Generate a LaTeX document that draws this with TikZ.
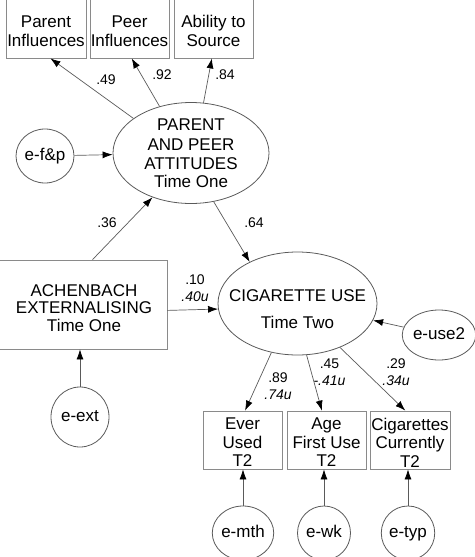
\documentclass[tikz,border=0pt]{standalone}
\usepackage{fontspec}
\setmainfont{Liberation Sans}
\usetikzlibrary{shapes.geometric,arrows.meta}
\definecolor{boxgray}{HTML}{8A8A8A}
\definecolor{linegray}{HTML}{5A5A5A}
\begin{document}
\begin{tikzpicture}[x=1pt,y=-1pt,
  box/.style={draw=boxgray,line width=0.8pt,rectangle,inner sep=0pt},
  oval/.style={draw=linegray,line width=0.8pt,ellipse,inner sep=0pt},
  txt/.style={inner sep=0pt,align=center,font=\fontsize{17}{18.5}\selectfont},
  err/.style={draw=linegray,line width=0.8pt,ellipse,inner sep=0pt,
    text height=12pt,text depth=3pt,font=\fontsize{17}{19}\selectfont},
  lab/.style={inner sep=0pt,align=center,font=\fontsize{14}{17}\selectfont},
  arr/.style={draw=linegray,line width=0.7pt,-{Latex[length=10pt,width=7pt,black]}}]
\useasboundingbox (0,0) rectangle (474,557);
% top indicators
\node[box,minimum width=80,minimum height=62] (pinf) at (46,27) {};
\node[box,minimum width=79,minimum height=62] (peer) at (129.5,27) {};
\node[box,minimum width=79,minimum height=62] (abil) at (213.5,27) {};
\node[txt] (pinft) at (46,31) {Parent\\Influences};
\node[txt] (peert) at (129.5,31) {Peer\\Influences};
\node[txt] (abilt) at (213.5,31) {Ability to\\Source};
% latent parent/peer
\node[oval,minimum width=156,minimum height=101] (ppa) at (191,153) {};
\node[txt,font=\fontsize{17}{19.5}\selectfont] (ppat) at (191,153) {PARENT\\AND PEER\\ATTITUDES\\[-2pt]Time One};
\node[err,minimum width=58,minimum height=54] (efp) at (45,156) {e-f\&p};
% achenbach
\node[box,minimum width=168,minimum height=89] (ach) at (83,304.5) {};
\node[txt,font=\fontsize{17}{17.5}\selectfont] (acht) at (84,308) {ACHENBACH\\EXTERNALISING\\Time One};
\node[err,minimum width=58,minimum height=60] (eext) at (80,417) {e-ext};
% cigarette use
\node[oval,minimum width=159,minimum height=103] (cig) at (297.5,303.5) {};
\node[txt] (cigt) at (297.5,309) {CIGARETTE USE\\[8pt]Time Two};
\node[err,minimum width=58,minimum height=50] (euse) at (439,335) {e-use2};
% bottom indicators
\node[box,minimum width=79,minimum height=58] (ever) at (242.5,440) {};
\node[box,minimum width=79,minimum height=58] (age) at (326.5,440) {};
\node[box,minimum width=80,minimum height=58] (cigc) at (410,440) {};
\node[txt] (evert) at (242.5,442.5) {Ever\\Used\\T2};
\node[txt] (aget) at (326.5,442.5) {Age\\First Use\\T2};
\node[txt] (cigct) at (410,442.5) {Cigarettes\\Currently\\T2};
\node[err,minimum width=53,minimum height=54] (emth) at (243,533) {e-mth};
\node[err,minimum width=53,minimum height=54] (ewk) at (324,533) {e-wk};
\node[err,minimum width=53,minimum height=54] (etyp) at (408,533) {e-typ};
% arrows
\draw[arr] (ppa.149) -- (pinf.-82);
\draw[arr] (ppa.124) -- (peer.-86);
\draw[arr] (ppa.76) -- (abil.-93);
\draw[arr] (efp) -- (ppa);
\draw[arr] (ach.78) -- (ppa.229);
\draw[arr] (ppa.-65) -- (cig.139);
\draw[arr] (ach.-4) -- (cig.184);
\draw[arr] (euse) -- (cig);
\draw[arr] (eext.north) -- (eext.north |- ach.south);
\draw[arr] (cig.242) -- (ever.85);
\draw[arr] (cig.-80) -- (age.99);
\draw[arr] (cig.-46) -- (cigc.99);
\draw[arr] (emth.north) -- (emth.north |- ever.south);
\draw[arr] (ewk.north) -- (ewk.north |- age.south);
\draw[arr] (etyp.north) -- (etyp.north |- cigc.south);
% labels
\node[lab] (l49) at (106,80) {.49};
\node[lab] (l92) at (162,75) {.92};
\node[lab] (l84) at (225,75) {.84};
\node[lab] (l36) at (107,223) {.36};
\node[lab] (l64) at (254,223) {.64};
\node[lab] (l10) at (195,288) {.10\\\textit{.40u}};
\node[lab] (l89) at (278,386.5) {.89\\\textit{.74u}};
\node[lab] (l45) at (329.5,372.5) {.45\\\textit{-.41u}};
\node[lab] (l29) at (396,372.5) {.29\\\textit{.34u}};
\end{tikzpicture}
\end{document}
